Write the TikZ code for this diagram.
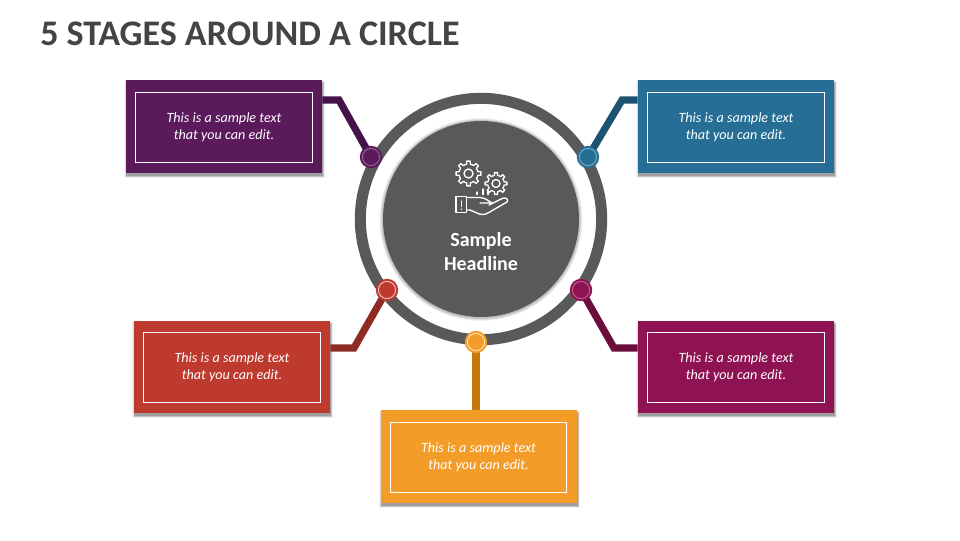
\documentclass[tikz,border=0pt]{standalone}
\usepackage{fontspec}
\setmainfont{Carlito}
\definecolor{cpurple}{HTML}{5A1A5B}
\definecolor{dpurple}{HTML}{45134A}
\definecolor{cblue}{HTML}{266E96}
\definecolor{dblue}{HTML}{1C5272}
\definecolor{cred}{HTML}{BE392E}
\definecolor{dred}{HTML}{8E2B23}
\definecolor{cmag}{HTML}{8F1352}
\definecolor{dmag}{HTML}{6B0E3D}
\definecolor{corange}{HTML}{F39C27}
\definecolor{dorange}{HTML}{C4780E}
\definecolor{cgray}{HTML}{595959}
\definecolor{ctitle}{HTML}{444444}
\tikzset{
  x=0.75pt,y=-0.75pt,
  stagebox/.style={rectangle,minimum width=147pt,minimum height=69.5pt,inner sep=0pt,fill=#1},
  framebox/.style={rectangle,draw=white,line width=0.75pt,minimum width=132.7pt,minimum height=52.5pt,inner sep=0pt,
    text=white,align=center,font=\fontsize{10.6}{12.9}\selectfont\itshape},
  link/.style={line width=5.4pt,draw=#1,line join=miter},
  dotnode/.style={circle,fill=#1,minimum size=16pt,inner sep=0pt},
  icon/.style={draw=white,line width=1pt,line join=round,line cap=round},
}
\newcommand{\softshadow}[4]{% x0 y0 x1 y1
  \foreach \d/\o in {2.5/0.05,1.7/0.08,1/0.12,0.3/0.18}{
    \fill[black,opacity=\o] (#1-\d+0.5,#2-\d+3) rectangle (#3+\d+0.5,#4+\d+2.5);
  }}
\newcommand{\gearshape}[4]{% cx cy outer inner
  \draw[icon] ({#1+#4*cos(-22)},{#2+#4*sin(-22)})
    foreach \a in {0,45,...,315}{
      -- ({#1+#4*cos(\a-22)},{#2+#4*sin(\a-22)})
      -- ({#1+#4*cos(\a-11)},{#2+#4*sin(\a-11)})
      -- ({#1+#3*cos(\a-8)},{#2+#3*sin(\a-8)})
      -- ({#1+#3*cos(\a+8)},{#2+#3*sin(\a+8)})
      -- ({#1+#4*cos(\a+11)},{#2+#4*sin(\a+11)})
    } -- cycle;
}
\newcommand{\sampletext}[1]{\raisebox{#1}{\shortstack{This is a sample text\\[0.75pt]that you can edit.}}}
\begin{document}
\begin{tikzpicture}
\useasboundingbox (0,0) rectangle (960,540);
\fill[white] (0,0) rectangle (960,540);

\node[anchor=base west,inner sep=0pt,text=ctitle,font=\fontsize{27}{30}\selectfont\bfseries] (title) at (40,45.5) {5 STAGES AROUND A CIRCLE};

% shadows
\softshadow{126}{80}{322}{173}
\softshadow{638}{80}{834}{173}
\softshadow{134}{321}{330}{413}
\softshadow{638}{321}{834}{413}
\softshadow{381}{410}{577}{503}

% ring
\node[circle,draw=cgray,line width=8.3pt,minimum size=181pt,inner sep=0pt] (ring) at (481,219) {};
% central disc with soft glow
\foreach \r/\o in {101.5/0.05,100.5/0.08,99.5/0.12}{
  \fill[black,opacity=\o] (481,219.5) circle[radius=\r];
}
\node[circle,fill=cgray,minimum size=147pt,inner sep=0pt] (hub) at (481,219) {};
\node[text=white,align=center,inner sep=0pt,font=\fontsize{15}{18}\selectfont\bfseries] (headline) at (481,251.5) {Sample\\Headline};

% icon
\gearshape{468.5}{173.5}{12.5}{9.5}
\draw[icon] (468.5,173.5) circle[radius=4.5];
\gearshape{496}{183.5}{11}{8.3}
\draw[icon] (496,183.5) circle[radius=4];
\draw[icon] (456,196.5) rectangle (466.5,212.5);
\draw[icon] (461.3,201) -- (461.3,206.5) (461.3,209) -- (461.3,209.6);
\draw[icon] (466.5,197.5) -- (480,197.5) .. controls (486,198) and (488,201) .. (492,203)
  -- (480,203) (489,205) -- (502,198.5) .. controls (506,196.5) and (509,200) .. (507,202)
  -- (488,213) .. controls (484,215) and (481,215) .. (477,213) -- (470,210) -- (466.5,210);
\draw[icon] (477,192) -- (477,194.5) (483,189) -- (483,194.5) (488,191) -- (488,194.5);

% bends
\coordinate (bp) at (339,100);
\coordinate (bb) at (622,100);
\coordinate (br) at (354,348);
\coordinate (bm) at (614,348);

% boxes
\node[stagebox=cpurple] (boxp) at (224,126.5) {};
\node[stagebox=cblue] (boxb) at (736,126.5) {};
\node[stagebox=cred] (boxr) at (232,367) {};
\node[stagebox=cmag] (boxm) at (736,367) {};
\node[stagebox=corange] (boxo) at (479,456.5) {};

% dots
\node[dotnode=cpurple] (dotp) at (371,157) {};
\node[dotnode=cblue] (dotb) at (588,157) {};
\node[dotnode=cred] (dotr) at (387,290) {};
\node[dotnode=cmag] (dotm) at (581,290) {};
\node[dotnode=corange] (doto) at (476,342) {};

% connectors
\draw[link=dpurple] (boxp.east |- bp) -- (bp) -- (dotp.center);
\draw[link=dblue] (boxb.west |- bb) -- (bb) -- (dotb.center);
\draw[link=dred] (boxr.east |- br) -- (br) -- (dotr.center);
\draw[link=dmag] (boxm.west |- bm) -- (bm) -- (dotm.center);
\draw[link=dorange] (boxo.north -| doto) -- (doto.center);

% dots on top
\foreach \n/\c/\o in {dotp/cpurple/0.35,dotb/cblue/0.4,dotr/cred/0.7,dotm/cmag/0.35,doto/corange/0.7}{
  \fill[\c] (\n.center) circle[radius=11.2];
  \draw[white,opacity=\o,line width=0.7pt] (\n.center) circle[radius=8.6];
}

% frames
\node[framebox] (fp) at (224,127.5) {\sampletext{-1.3pt}};
\node[framebox] (fb) at (736,127.5) {\sampletext{-1.3pt}};
\node[framebox] (fr) at (232,367.5) {\sampletext{-1.3pt}};
\node[framebox] (fm) at (736,367.5) {\sampletext{-1.3pt}};
\node[framebox] (fo) at (478.5,457) {\sampletext{-1.6pt}};
\end{tikzpicture}
\end{document}
